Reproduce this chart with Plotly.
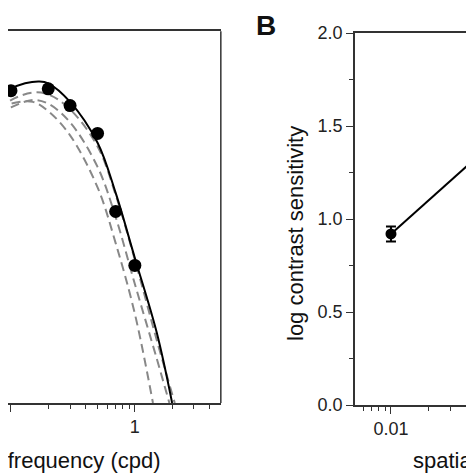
import plotly.graph_objects as go

# Panel A data
a_pts_x = [0.1, 0.2, 0.3, 0.5, 0.7, 1.0]
a_pts_y = [1.68, 1.69, 1.60, 1.45, 1.03, 0.74]
fit_x = [0.08, 0.1, 0.13, 0.17, 0.2, 0.3, 0.5, 0.7, 1.0, 1.5, 2.0]
fit_y = [1.64, 1.69, 1.72, 1.73, 1.72, 1.62, 1.40, 1.13, 0.78, 0.38, 0.0]
d1_x = [0.08, 0.1, 0.15, 0.2, 0.3, 0.5, 0.7, 1.0, 1.5, 2.1]
d1_y = [1.58, 1.63, 1.67, 1.66, 1.58, 1.38, 1.12, 0.77, 0.34, 0.0]
d2_x = [0.08, 0.1, 0.15, 0.2, 0.3, 0.5, 0.7, 1.0, 1.5, 1.9]
d2_y = [1.55, 1.59, 1.63, 1.61, 1.51, 1.27, 1.00, 0.64, 0.24, 0.0]
d3_x = [0.08, 0.1, 0.15, 0.2, 0.3, 0.5, 0.7, 1.0, 1.4]
d3_y = [1.58, 1.61, 1.62, 1.57, 1.44, 1.16, 0.86, 0.48, 0.0]

# Panel B data
b_x = [0.01, 0.05]
b_y = [0.92, 1.34]
b_err = [0.04, 0.04]
b_yticks = [0.0, 0.5, 1.0, 1.5, 2.0]
b_yticklabels = ["0.0", "0.5", "1.0", "1.5", "2.0"]

fig = go.Figure()
for xs, ys in [(d1_x, d1_y), (d2_x, d2_y), (d3_x, d3_y)]:
    fig.add_trace(go.Scatter(x=xs, y=ys, mode="lines", line=dict(color="#888", width=2, dash="9px,5px", shape="spline"),
                             xaxis="x", yaxis="y", showlegend=False))
fig.add_trace(go.Scatter(x=fit_x, y=fit_y, mode="lines", line=dict(color="black", width=2, shape="spline"),
                         xaxis="x", yaxis="y", showlegend=False))
fig.add_trace(go.Scatter(x=a_pts_x, y=a_pts_y, mode="markers", marker=dict(color="black", size=13),
                         xaxis="x", yaxis="y", showlegend=False))
fig.add_trace(go.Scatter(x=b_x, y=b_y, mode="lines+markers", line=dict(color="black", width=2),
                         marker=dict(color="black", size=11),
                         error_y=dict(type="data", array=b_err, color="black", thickness=2, width=5),
                         xaxis="x2", yaxis="y2", showlegend=False))

tickfont = dict(family="Arial, Liberation Sans", size=18, color="#222")
minorA = [0.2,0.3,0.4,0.5,0.6,0.7,0.8,0.9,2,3,4,5]
minorB = [0.006,0.007,0.008,0.009,0.02,0.03,0.04,0.05]
tfont = dict(family="Arial, Liberation Sans", size=22, color="#111")

fig.update_layout(
    width=474, height=474, margin=dict(l=0, r=0, t=0, b=0, autoexpand=False),
    paper_bgcolor="white", plot_bgcolor="white",
    xaxis=dict(type="log", domain=[0, 0.449], range=[-1.024, 0.694], showline=True, mirror=True,
               linecolor="#333", linewidth=1.5, ticks="outside", ticklen=7, tickcolor="#333",
               tickvals=[0.1, 1], ticktext=["0.1", "1"], tickfont=tickfont, showgrid=False, zeroline=False,
               minor=dict(tickvals=minorA, ticks="outside", ticklen=4, tickcolor="#333", showgrid=False),
               anchor="y", automargin=False),
    yaxis=dict(domain=[0.1667, 0.951], range=[0, 2], showticklabels=False, ticks="", showgrid=False,
               zeroline=False, showline=False, anchor="x", automargin=False),
    xaxis2=dict(type="log", domain=[0.732, 1], range=[-2.288, -1.272], showline=True, mirror=True,
                linecolor="#333", linewidth=1.5, ticks="outside", ticklen=7, tickcolor="#333",
                tickvals=[0.01], ticktext=["0.01"], tickfont=tickfont, showgrid=False, zeroline=False,
                minor=dict(tickvals=minorB, ticks="outside", ticklen=4, tickcolor="#333", showgrid=False),
                anchor="y2", automargin=False),
    yaxis2=dict(domain=[0.1624, 0.947], range=[0, 2], showline=True, linecolor="#333", linewidth=1.5,
                ticks="outside", ticklen=7, tickcolor="#333", tickvals=b_yticks, ticktext=b_yticklabels,
                tickfont=tickfont, showgrid=False, zeroline=False,
                minor=dict(tickvals=[0.25, 0.75, 1.25, 1.75], ticks="outside", ticklen=4, tickcolor="#333"),
                anchor="x2", automargin=False),
    shapes=[dict(type="line", xref="paper", yref="paper", x0=0.449, x1=0.449, y0=0.1667, y1=0.951,
                 line=dict(color="#333", width=1.5))],
    annotations=[
        dict(text="spatial frequency (cpd)", xref="paper", yref="paper", x=155/474, y=1-452/474,
             xanchor="right", yanchor="middle", showarrow=False, font=tfont),
        dict(text="spatial frequency (cpd)", xref="paper", yref="paper", x=403/474, y=1-452/474,
             xanchor="left", yanchor="middle", showarrow=False, font=tfont),
        dict(text="log contrast sensitivity", xref="paper", yref="paper", x=288/474, y=1-226/474,
             xanchor="center", yanchor="middle", textangle=-90, showarrow=False, font=tfont),
        dict(text="<b>B</b>", xref="paper", yref="paper", x=258/474, y=1-18/474,
             xanchor="center", yanchor="middle", showarrow=False,
             font=dict(family="Arial, Liberation Sans", size=28, color="#111")),
    ],
)
fig.write_html("out.html")
